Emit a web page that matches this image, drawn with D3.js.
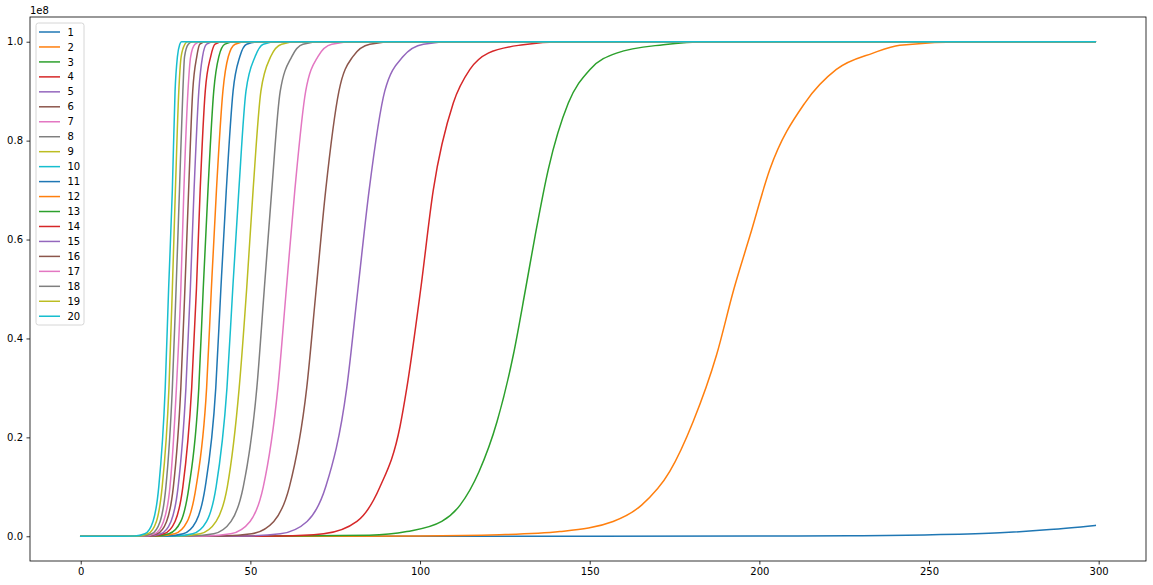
<!DOCTYPE html>
<html>
<head>
<meta charset="utf-8">
<script src="https://cdn.jsdelivr.net/npm/d3@7"></script>
<style>
  body { margin: 0; background: #fff; }
  svg { display: block; }
  text { font-family: "DejaVu Sans", sans-serif; font-size: 10px; fill: #000; }
  .axis path { display: none; }
  .axis line { stroke: #000; stroke-width: 0.8; }
</style>
</head>
<body>
<div id="chart"></div>
<script>
// values: [t, population / 1e8]
var s1 = [[0,0],[150,0.0001],[200,0.0004],[226.6,0.001],[251,0.003],[270.9,0.007],[285.6,0.0135],[299,0.022]];
var s2 = [[0,0],[60,0],[100,0.0005],[123.5,0.003],[141.2,0.0095],[156.9,0.03],[165.3,0.063],[173.6,0.131],[180.5,0.232],[187.4,0.367],[192.5,0.5],[197.2,0.607],[203.1,0.742],[213.4,0.876],[222.7,0.944],[233.5,0.977],[241.4,0.993],[262,1],[299,1]];
var s3 = [[0,0],[50,0],[85,0.002],[96.1,0.0095],[106.4,0.03],[111.8,0.063],[117.4,0.131],[122.7,0.232],[127.5,0.367],[131.1,0.5],[133.9,0.607],[137.8,0.742],[143.7,0.876],[150.1,0.944],[157.9,0.977],[171.7,0.994],[185,1],[299,1]];
var s4 = [[0,0],[40,0],[59.2,0.0005],[71.6,0.005],[81.4,0.03],[88.2,0.1],[94.1,0.222],[96.1,0.3],[100.2,0.5],[103.9,0.7],[109.8,0.876],[114.7,0.944],[120.1,0.977],[130.4,0.994],[142,1],[299,1]];
var s5 = [[0,0],[30,0],[48.8,0.0005],[58.8,0.005],[66.7,0.03],[72.2,0.1],[78.4,0.3],[81.7,0.5],[85.0,0.7],[89.6,0.9],[95,0.97],[101,0.995],[110,1],[299,1]];
var s6 = [[0,0],[25,0],[42.1,0.0005],[50.4,0.005],[56.9,0.03],[61.5,0.1],[66.6,0.3],[69.4,0.5],[72.2,0.7],[76.1,0.9],[80.2,0.97],[85.2,0.995],[93,1],[299,1]];
var s7 = [[0,0],[20,0],[37.1,0.0005],[44.2,0.005],[49.9,0.03],[53.8,0.1],[58.1,0.3],[60.6,0.5],[63.1,0.7],[66.3,0.9],[69.9,0.97],[74.0,0.995],[81,1],[299,1]];
var s8 = [[0,0],[18,0],[32.6,0.0005],[39.2,0.005],[44.3,0.03],[47.9,0.1],[51.9,0.3],[54.1,0.5],[56.3,0.7],[58.8,0.9],[62.2,0.97],[65.5,0.995],[71,1],[299,1]];
var s9 = [[0,0],[16,0],[29.2,0.0005],[35.2,0.005],[39.9,0.03],[43.2,0.1],[46.7,0.3],[48.9,0.5],[50.8,0.7],[53.1,0.9],[56.0,0.97],[59.2,0.995],[64,1],[299,1]];
var s10 = [[0,0],[15,0],[27.8,0.0005],[33.0,0.005],[37.1,0.03],[39.9,0.1],[43.1,0.3],[44.8,0.5],[46.6,0.7],[48.7,0.9],[51.4,0.97],[53.8,0.995],[58,1],[299,1]];
var s11 = [[0,0],[14,0],[25.4,0.0005],[30.2,0.005],[34.0,0.03],[36.7,0.1],[39.8,0.3],[41.3,0.5],[42.9,0.7],[44.9,0.9],[46.9,0.97],[48.9,0.995],[53,1],[299,1]];
var s12 = [[0,0],[13,0],[22.9,0.0005],[27.7,0.005],[31.4,0.03],[34.0,0.1],[37.1,0.3],[38.5,0.5],[40.0,0.7],[41.9,0.9],[43.5,0.97],[45.5,0.995],[49,1],[299,1]];
var s13 = [[0,0],[12,0],[21.6,0.0005],[26.0,0.005],[29.5,0.03],[31.9,0.1],[34.8,0.3],[36.1,0.5],[37.5,0.7],[39.2,0.9],[40.7,0.97],[42.5,0.995],[45.5,1],[299,1]];
var s14 = [[0,0],[12,0],[20.3,0.0005],[24.5,0.005],[27.8,0.03],[30.1,0.1],[32.7,0.3],[34.1,0.5],[35.2,0.7],[36.7,0.9],[38.3,0.97],[39.6,0.995],[42,1],[299,1]];
var s15 = [[0,0],[11,0],[19.8,0.0005],[23.6,0.005],[26.6,0.03],[28.7,0.1],[31.0,0.3],[32.3,0.5],[33.4,0.7],[34.8,0.9],[35.9,0.97],[37.1,0.995],[39.5,1],[299,1]];
var s16 = [[0,0],[11,0],[18.9,0.0005],[22.5,0.005],[25.3,0.03],[27.3,0.1],[29.5,0.3],[30.7,0.5],[31.8,0.7],[33.0,0.9],[34.2,0.97],[35.1,0.995],[37,1],[299,1]];
var s17 = [[0,0],[10,0],[18.4,0.0005],[21.8,0.005],[24.4,0.03],[26.3,0.1],[28.2,0.3],[29.5,0.5],[30.4,0.7],[31.6,0.9],[32.4,0.97],[33.7,0.995],[35.5,1],[299,1]];
var s18 = [[0,0],[10,0],[17.7,0.0005],[20.9,0.005],[23.4,0.03],[25.1,0.1],[27.0,0.3],[28.1,0.5],[29.1,0.7],[30.1,0.9],[30.6,0.97],[31.7,0.995],[33,1],[299,1]];
var s19 = [[0,0],[10,0],[16.6,0.0005],[19.8,0.005],[22.3,0.03],[24.0,0.1],[26.0,0.3],[27.0,0.5],[27.9,0.7],[28.9,0.9],[29.6,0.97],[30.7,0.995],[31.5,1],[299,1]];
var s20 = [[0,0],[9,0],[15.9,0.0005],[18.9,0.005],[21.3,0.03],[23.0,0.1],[24.9,0.3],[25.9,0.5],[27.0,0.7],[27.8,0.9],[28.5,0.97],[29.2,0.995],[29.7,1],[299,1]];

var labels = ["1","2","3","4","5","6","7","8","9","10","11","12","13","14","15","16","17","18","19","20"];
var xTicks = [0, 50, 100, 150, 200, 250, 300];
var yTicks = [0, 0.2, 0.4, 0.6, 0.8, 1.0];

var series = [s1,s2,s3,s4,s5,s6,s7,s8,s9,s10,s11,s12,s13,s14,s15,s16,s17,s18,s19,s20];
var tab10 = ["#1f77b4","#ff7f0e","#2ca02c","#d62728","#9467bd","#8c564b","#e377c2","#7f7f7f","#bcbd22","#17becf"];

var W = 1153, H = 585;
var box = {left: 30, right: 1146, top: 17, bottom: 561};

var svg = d3.select("#chart").append("svg")
    .attr("width", W)
    .attr("height", H);

// matplotlib-like 5% margins around the data range
var x = d3.scaleLinear()
    .domain([-14.95, 313.95])
    .range([box.left, box.right]);

var y = d3.scaleLinear()
    .domain([-0.05, 1.05])
    .range([box.bottom, box.top]);

// monotone keeps the curves from overshooting the 1.0 plateau
var line = d3.line()
    .x(function(d) { return x(d[0]); })
    .y(function(d) { return y(d[1]); })
    .curve(d3.curveMonotoneX);

svg.append("defs").append("clipPath")
    .attr("id", "clip")
    .append("rect")
    .attr("x", box.left)
    .attr("y", box.top)
    .attr("width", box.right - box.left)
    .attr("height", box.bottom - box.top);

svg.append("g")
    .attr("clip-path", "url(#clip)")
    .selectAll("path")
    .data(series)
    .enter().append("path")
    .attr("d", line)
    .attr("fill", "none")
    .attr("stroke", function(d, i) { return tab10[i % 10]; })
    .attr("stroke-width", 1.5)
    .attr("stroke-linejoin", "round")
    .attr("stroke-linecap", "square");

// axes
svg.append("g")
    .attr("class", "axis")
    .attr("transform", "translate(0," + box.bottom + ")")
    .call(d3.axisBottom(x).tickValues(xTicks).tickSize(3.5).tickPadding(3.5).tickFormat(d3.format("d")));

svg.append("g")
    .attr("class", "axis")
    .attr("transform", "translate(" + box.left + ",0)")
    .call(d3.axisLeft(y).tickValues(yTicks).tickSize(3.5).tickPadding(3.5).tickFormat(d3.format(".1f")));

svg.selectAll(".axis text")
    .style("font-family", "'DejaVu Sans', sans-serif")
    .style("font-size", "10px")
    .attr("fill", "#000");

// frame
svg.append("rect")
    .attr("x", box.left)
    .attr("y", box.top)
    .attr("width", box.right - box.left)
    .attr("height", box.bottom - box.top)
    .attr("fill", "none")
    .attr("stroke", "#000")
    .attr("stroke-width", 0.8);

// offset text
svg.append("text")
    .attr("x", box.left)
    .attr("y", 14)
    .text("1e8");

// legend
var legend = svg.append("g")
    .attr("transform", "translate(36,23)");

legend.append("rect")
    .attr("width", 48)
    .attr("height", 302)
    .attr("rx", 2.5)
    .attr("fill", "#fff")
    .attr("fill-opacity", 0.8)
    .attr("stroke", "#cccccc")
    .attr("stroke-width", 0.8);

var rows = legend.selectAll(".row")
    .data(labels)
    .enter().append("g")
    .attr("class", "row")
    .attr("transform", function(d, i) { return "translate(0," + (9 + i * 14.96) + ")"; });

rows.append("line")
    .attr("x1", 3)
    .attr("x2", 24)
    .attr("stroke", function(d, i) { return tab10[i % 10]; })
    .attr("stroke-width", 1.5);

rows.append("text")
    .attr("x", 31.5)
    .attr("dy", "0.36em")
    .text(function(d) { return d; });
</script>
</body>
</html>
